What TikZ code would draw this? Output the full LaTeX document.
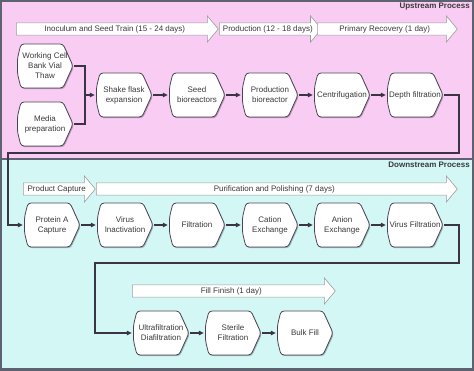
\documentclass[tikz,border=0pt]{standalone}
\usepackage{fontspec}
\setmainfont{Liberation Sans}
\usetikzlibrary{shapes.arrows,arrows.meta,backgrounds}
\definecolor{framegray}{HTML}{5E6170}
\definecolor{uppink}{HTML}{F9CCF3}
\definecolor{downcyan}{HTML}{D3F7F5}
\definecolor{linkcol}{HTML}{3B3445}
\definecolor{boxline}{HTML}{4A4456}
\definecolor{phaseline}{HTML}{9C9C9C}
\definecolor{labeltext}{HTML}{3A3A3A}
\tikzset{
  stepoutline/.style={insert path={[rounded corners=3pt] (-24,-22) -- (18,-22) -- (28,0)
    -- (18,22) -- (-24,22) -- (-27.5,8) -- (-27.5,-8) -- cycle}},
}
\begin{document}
\begin{tikzpicture}[x=1pt,y=-1pt,
  stepbox/.style={rectangle, minimum width=58pt, minimum height=46pt, inner sep=0pt,
    align=center, text=labeltext, font=\fontsize{8}{10}\selectfont},
  phase/.style={single arrow, single arrow head extend=7pt, single arrow tip angle=100,
    draw=phaseline, fill=white, line width=0.6pt, minimum width=26pt, inner ysep=2pt,
    text height=6pt, text depth=1.6pt, anchor=tail, text=labeltext,
    font=\fontsize{8}{10}\selectfont},
  link/.style={draw=linkcol, line width=1.1pt, -{Triangle[length=5pt,width=4.5pt]}},
  title/.style={anchor=east, inner sep=0pt, text=labeltext, font=\fontsize{8}{10}\selectfont\bfseries}]

% panels
\begin{scope}[on background layer]
\fill[framegray] (0,0) rectangle (474,371);
\fill[uppink] (2,2) rectangle (472,158);
\fill[downcyan] (2,160) rectangle (472,368);
\end{scope}
\node[title] (uptitle) at (470,7) {Upstream Process};
\node[title] (downtitle) at (470,165) {Downstream Process};

% phases
\node[phase, minimum height=202pt] (inoc) at (16,29) {Inoculum and Seed Train (15 - 24 days)};
\node[phase, minimum height=97pt] (prodph) at (219,29) {Production (12 - 18 days)};
\node[phase, minimum height=140pt] (recov) at (317,29) {Primary Recovery (1 day)};
\node[phase, minimum height=72pt] (capt) at (23,189) {Product Capture};
\node[phase, minimum height=361pt] (polish) at (96,189) {Purification and Polishing (7 days)};
\node[phase, minimum height=203pt] (fill) at (132,291) {Fill Finish (1 day)};

% upstream steps
\node[stepbox] (wcb) at (45,66) {Working Cell\\Bank Vial\\Thaw};
\node[stepbox] (media) at (45,124) {Media\\preparation};
\node[stepbox] (shake) at (124,95) {Shake flask\\expansion};
\node[stepbox] (seed) at (197,95) {Seed\\bioreactors};
\node[stepbox] (prodbio) at (270,95) {Production\\bioreactor};
\node[stepbox] (centri) at (342,95) {Centrifugation};
\node[stepbox] (depth) at (415,95) {Depth filtration};

% downstream steps
\node[stepbox] (prota) at (52,225) {Protein A\\Capture};
\node[stepbox] (virin) at (125,225) {Virus\\Inactivation};
\node[stepbox] (filt) at (197,225) {Filtration};
\node[stepbox] (cation) at (270,225) {Cation\\Exchange};
\node[stepbox] (anion) at (342,225) {Anion\\Exchange};
\node[stepbox] (virfilt) at (415,225) {Virus Filtration};
\node[stepbox] (ufdf) at (161,333) {Ultrafiltration\\Diafiltration};
\node[stepbox] (sterile) at (233,333) {Sterile\\Filtration};
\node[stepbox] (bulk) at (305,333) {Bulk Fill};

% outlines of the steps, under their text
\begin{scope}[on background layer]
\foreach \s in {wcb,media,shake,seed,prodbio,centri,depth,prota,virin,filt,cation,anion,virfilt,ufdf,sterile,bulk}{
  \fill[black, opacity=0.25, shift={(\s.center)}, shift={(1,1.2)}, stepoutline];
  \filldraw[fill=white, draw=boxline, line width=0.8pt, shift={(\s.center)}, stepoutline];
}
\end{scope}

% connectors
\coordinate (join) at (85,95);
\coordinate (upR) at (459,153);
\coordinate (upL) at (8,153);
\coordinate (dnR) at (459,263);
\coordinate (dnL) at (95,263);
\draw[link, -] (wcb.east) -| (join);
\draw[link, -] (media.east) -| (join);
\draw[link] (join) -- (shake);
\draw[link] (shake) -- (seed);
\draw[link] (seed) -- (prodbio);
\draw[link] (prodbio) -- (centri);
\draw[link] (centri) -- (depth);
\draw[link] (depth.east) -| (upR) -- (upL) |- (prota.west);
\draw[link] (prota) -- (virin);
\draw[link] (virin) -- (filt);
\draw[link] (filt) -- (cation);
\draw[link] (cation) -- (anion);
\draw[link] (anion) -- (virfilt);
\draw[link] (virfilt.east) -| (dnR) -- (dnL) |- (ufdf.west);
\draw[link] (ufdf) -- (sterile);
\draw[link] (sterile) -- (bulk);
\end{tikzpicture}
\end{document}
